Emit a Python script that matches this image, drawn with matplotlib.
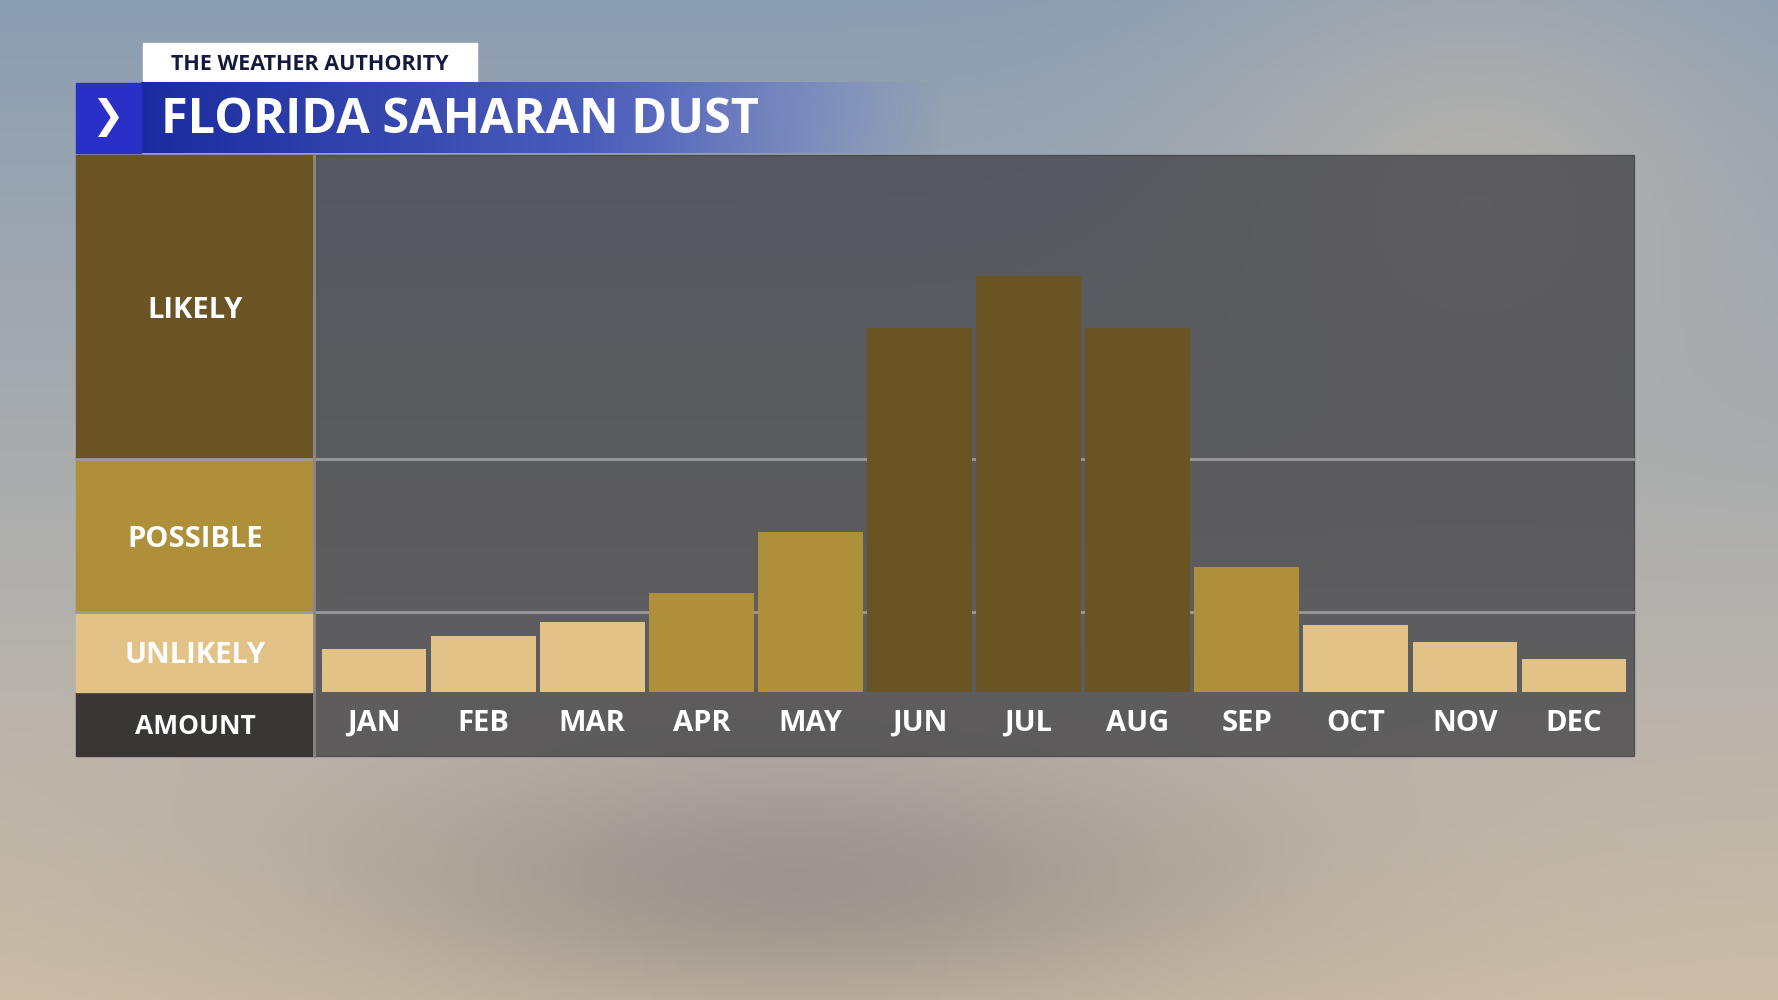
import numpy as np
import matplotlib.pyplot as plt
from matplotlib.patches import Rectangle

plt.rcParams['font.family'] = ['Open Sans', 'DejaVu Sans']

months = ['JAN', 'FEB', 'MAR', 'APR', 'MAY', 'JUN', 'JUL', 'AUG', 'SEP', 'OCT', 'NOV', 'DEC']
amount = [38, 49, 61, 87, 141, 321, 367, 321, 110, 59, 44, 29]
level = ['UNLIKELY', 'UNLIKELY', 'UNLIKELY', 'POSSIBLE', 'POSSIBLE', 'LIKELY', 'LIKELY', 'LIKELY',
         'POSSIBLE', 'UNLIKELY', 'UNLIKELY', 'UNLIKELY']
bands = ['UNLIKELY', 'POSSIBLE', 'LIKELY']
band_edges = [0, 70, 205, 473]
colors = {'LIKELY': '#6a5423', 'POSSIBLE': '#ae8f3a', 'UNLIKELY': '#e2c286'}

W, H = 1568, 882
fig = plt.figure(figsize=(17.78, 10.0), dpi=100)

# background: soft cloudy-sky gradient
bg = fig.add_axes([0, 0, 1, 1])
bg.set_xlim(0, W); bg.set_ylim(H, 0); bg.axis('off')
yy, xx = np.mgrid[0:H:4, 0:W:4]
blue = np.array([0.55, 0.62, 0.70]); beige = np.array([0.80, 0.74, 0.66]); dark = np.array([0.38, 0.38, 0.40])
t = np.clip(yy / H, 0, 1)[..., None]
sky = blue * (1 - t) + beige * t
blob = np.exp(-(((xx - 1300) / 250.0) ** 2 + ((yy - 150) / 200.0) ** 2))[..., None]
sky = sky * (1 - 0.5 * blob) + beige * 0.5 * blob
blob2 = np.exp(-(((xx - 700) / 400.0) ** 2 + ((yy - 780) / 120.0) ** 2))[..., None]
sky = sky * (1 - 0.4 * blob2) + dark * 0.4 * blob2
bg.imshow(sky, extent=[0, W, H, 0], aspect='auto', zorder=0)

# panel overlay
bg.add_patch(Rectangle((277, 137), 1441 - 277, 667 - 137, color='#3c3c40', alpha=0.72, zorder=1))
bg.add_patch(Rectangle((67, 610), 210, 57, color='#3a3636', zorder=2))
bg.text(172, 641, 'AMOUNT', color='white', fontsize=19, fontweight='bold', ha='center', va='center', zorder=3)

# left legend column
px_per = (610 - 137) / band_edges[-1]
for i, b in enumerate(bands):
    y0 = 610 - band_edges[i + 1] * px_per
    h = (band_edges[i + 1] - band_edges[i]) * px_per
    bg.add_patch(Rectangle((67, y0), 210, h, color=colors[b], zorder=2))
    bg.text(172, y0 + h / 2 + 3, b, color='white', fontsize=21, fontweight='bold', ha='center', va='center', zorder=3)
    if i > 0:
        bg.plot([67, 1441], [610 - band_edges[i] * px_per] * 2, color='#9a9a9a', lw=2, zorder=2)
bg.plot([277, 277], [137, 667], color='#888888', lw=2, zorder=3)

# header
bg.add_patch(Rectangle((126, 38), 295, 35, color='white', zorder=3))
bg.text(273, 57, 'THE WEATHER AUTHORITY', color='#141a3c', fontsize=15.5, fontweight='bold', ha='center', va='center', zorder=4)
n = 256
grad = np.zeros((1, n, 4))
s = np.linspace(0, 1, n)
grad[0, :, 0] = 0.10 + 0.35 * s
grad[0, :, 1] = 0.17 + 0.35 * s
grad[0, :, 2] = 0.62 + 0.20 * s
grad[0, :, 3] = np.clip(1.0 - np.clip((s - 0.55) / 0.45, 0, 1) ** 1.5, 0, 1)
bg.imshow(grad, extent=[124, 830, 135, 73], aspect='auto', zorder=3)
bg.add_patch(Rectangle((67, 73), 57, 62, color='#2a2fc8', zorder=4))
bg.text(95, 104, '❯', color='white', fontsize=28, fontweight='bold', ha='center', va='center', zorder=5,
        family=['DejaVu Sans'])
bg.text(142, 106, 'FLORIDA SAHARAN DUST', color='white', fontsize=35, fontweight='bold', ha='left', va='center', zorder=5)

# bar chart
ax = fig.add_axes([277 / W, 1 - 610 / H, (1441 - 277) / W, (610 - 137) / H])
ax.patch.set_alpha(0)
x = np.arange(len(months))
ax.bar(x, amount, width=0.96, color=[colors[l] for l in level], zorder=3)
ax.set_xlim(-0.55, len(months) - 0.45)
ax.set_ylim(0, band_edges[-1])
ax.axis('off')
for xi, m in zip(x, months):
    ax.text(xi, -28 / px_per, m, color='white', fontsize=21, fontweight='bold', ha='center', va='center',
            transform=ax.transData, clip_on=False)

fig.savefig('out.png', dpi=100)
